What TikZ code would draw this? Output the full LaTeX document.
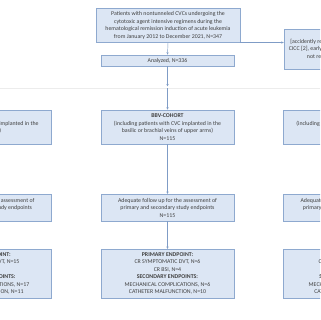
\documentclass[tikz,border=0pt]{standalone}
\usepackage{fontspec}
\setmainfont{Carlito}
\usetikzlibrary{arrows.meta}
\definecolor{boxfill}{HTML}{DCE6F4}
\definecolor{boxline}{HTML}{8EA9CF}
\definecolor{arrowcol}{HTML}{7F9CC6}
\definecolor{txtcol}{HTML}{404040}
\tikzset{
  box/.style={draw=boxline, line width=0.5pt, fill=boxfill, inner sep=0pt, align=center,
    text=txtcol, font=\fontsize{5.85}{7.5}\selectfont, minimum width=133pt},
  conn/.style={draw=arrowcol, line width=0.45pt, -{Stealth[length=2.5pt,width=2.2pt]}},
}
\begin{document}
\begin{tikzpicture}[x=1pt,y=-1pt]
\useasboundingbox (0,0) rectangle (320,320);
\clip (0,0) rectangle (320,320);
\fill[white] (0,0) rectangle (320,320);

% top
\node[box, minimum width=144pt, minimum height=34pt] (top) at (168,25.3)
 {Patients with nontunneled CVCs undergoing the\\cytotoxic agent intensive regimens during the\\hematological remission induction of acute leukemia\\from January 2012 to December 2021, N=347};
\node[box, minimum height=11pt] (anal) at (167.5,60.5) {Analyzed, N=336};
\node[box, minimum height=40pt] (excl) at (350.5,49)
 {[accidently removed before the first evaluation [4],\\CICC [2], early death before the study endpoints [3],\\not reached the study endpoints [2]]};

% cohorts
\node[box, minimum height=34pt] (lcoh) at (-15,127)
 {\textbf{CV-COHORT}\\(including patients with CVC implanted in the\\cephalic vein)\\N=};
\node[box, minimum height=34pt] (bcoh) at (167.5,127)
 {\textbf{BBV-COHORT}\\(including patients with CVC implanted in the\\basilic or brachial veins of upper arms)\\N=115};
\node[box, minimum height=34pt] (rcoh) at (350,127)
 {\textbf{JV-COHORT}\\(including patients with CVC implanted in the\\jugular vein)\\N=};

% follow-up
\node[box, minimum height=26.5pt] (lfol) at (-15,207.5)
 {Adequate follow up for the assessment of\\primary and secondary study endpoints\\N=};
\node[box, minimum height=26.5pt] (bfol) at (167.5,207.5)
 {Adequate follow up for the assessment of\\primary and secondary study endpoints\\N=115};
\node[box, minimum height=26.5pt] (rfol) at (350,207.5)
 {Adequate follow up for the assessment of\\primary and secondary study endpoints\\N=};

% endpoints
\node[box, minimum height=48.5pt] (lend) at (-15,273.5)
 {\textbf{PRIMARY ENDPOINT:}\\CR SYMPTOMATIC DVT, N=15\\CR BSI, N=\\\textbf{SECONDARY ENDPOINTS:}\\MECHANICAL COMPLICATIONS, N=17\\CATHETER MALFUNCTION, N=11};
\node[box, minimum height=48.5pt] (bend) at (167.5,273.5)
 {\textbf{PRIMARY ENDPOINT:}\\CR SYMPTOMATIC DVT, N=6\\CR BSI, N=4\\\textbf{SECONDARY ENDPOINTS:}\\MECHANICAL COMPLICATIONS, N=6\\CATHETER MALFUNCTION, N=10};
\node[box, minimum height=48.5pt] (rend) at (350,273.5)
 {\textbf{PRIMARY ENDPOINT:}\\CR SYMPTOMATIC DVT, N=\\CR BSI, N=\\\textbf{SECONDARY ENDPOINTS:}\\MECHANICAL COMPLICATIONS, N=\\CATHETER MALFUNCTION, N=};

% connectors
\coordinate (split) at (167.5,86.5);
\coordinate (lsplit) at (-15,88);
\coordinate (rsplit) at (350,88);
\draw[conn] (top.south) -- (anal.north);
\draw[conn] (top.south east) -- (excl.west |- top.south east);
\draw[conn] (anal.south) -- (split);
\draw[draw=gray!15, line width=0.5pt] (lsplit) -- (rsplit);
\draw[conn] (split |- lsplit) -- (bcoh.north);
\draw[conn] (lsplit) -- (lcoh.north);
\draw[conn] (rsplit) -- (rcoh.north);
\draw[conn] (bcoh.south) -- (bfol.north);
\draw[conn] (lcoh.south) -- (lfol.north);
\draw[conn] (rcoh.south) -- (rfol.north);
\draw[conn] (bfol.south) -- (bend.north);
\draw[conn] (lfol.south) -- (lend.north);
\draw[conn] (rfol.south) -- (rend.north);
\end{tikzpicture}
\end{document}
